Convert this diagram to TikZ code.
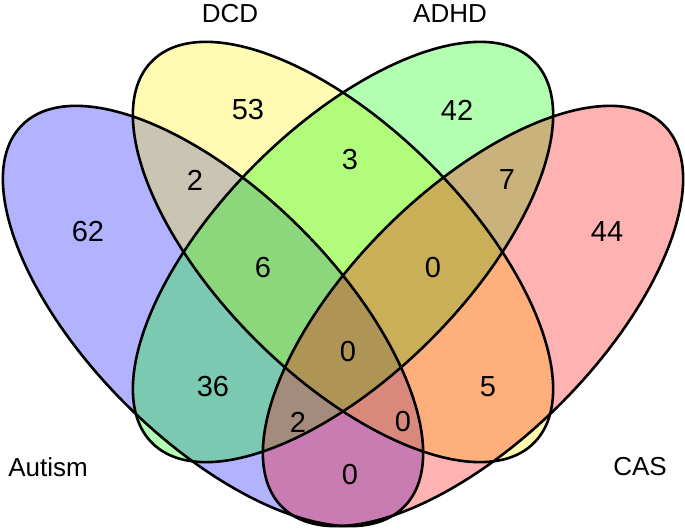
\documentclass[tikz,border=0pt]{standalone}
\usepackage{fontspec}
\setmainfont{Liberation Sans}
\begin{document}
\begin{tikzpicture}[x=1pt,y=-1pt,
  setfill/.style={fill opacity=0.3},
  setline/.style={draw=black,line width=2.6pt},
  num/.style={font=\fontsize{29}{32}\selectfont},
  lab/.style={font=\fontsize{26}{29}\selectfont}]
\useasboundingbox (0,0) rectangle (685,529);
\def\A{(213,316) ellipse [x radius=270pt,y radius=124pt,rotate=-45]}
\def\D{(343,252) ellipse [x radius=270pt,y radius=124pt,rotate=-45]}
\def\H{(343,252) ellipse [x radius=270pt,y radius=124pt,rotate=45]}
\def\C{(473,316) ellipse [x radius=270pt,y radius=124pt,rotate=45]}
\fill[blue,setfill] \A;
\fill[yellow,setfill] \D;
\fill[green,setfill] \H;
\fill[red,setfill] \C;
\draw[setline] \A; \draw[setline] \D; \draw[setline] \H; \draw[setline] \C;
\node[lab] (lA) at (48,467) {Autism};
\node[lab] (lD) at (230,14) {DCD};
\node[lab] (lH) at (450,14) {ADHD};
\node[lab] (lC) at (640,467) {CAS};
\node[num] (n1) at (88,232) {62};
\node[num] (n2) at (248,110) {53};
\node[num] (n3) at (457,110) {42};
\node[num] (n4) at (607,232) {44};
\node[num] (n5) at (195,180) {2};
\node[num] (n6) at (350,160) {3};
\node[num] (n7) at (507,180) {7};
\node[num] (n8) at (263,268) {6};
\node[num] (n9) at (433,268) {0};
\node[num] (n10) at (213,387) {36};
\node[num] (n11) at (348,352) {0};
\node[num] (n12) at (488,387) {5};
\node[num] (n13) at (298,422) {2};
\node[num] (n14) at (403,422) {0};
\node[num] (n15) at (350,475) {0};
\end{tikzpicture}
\end{document}
